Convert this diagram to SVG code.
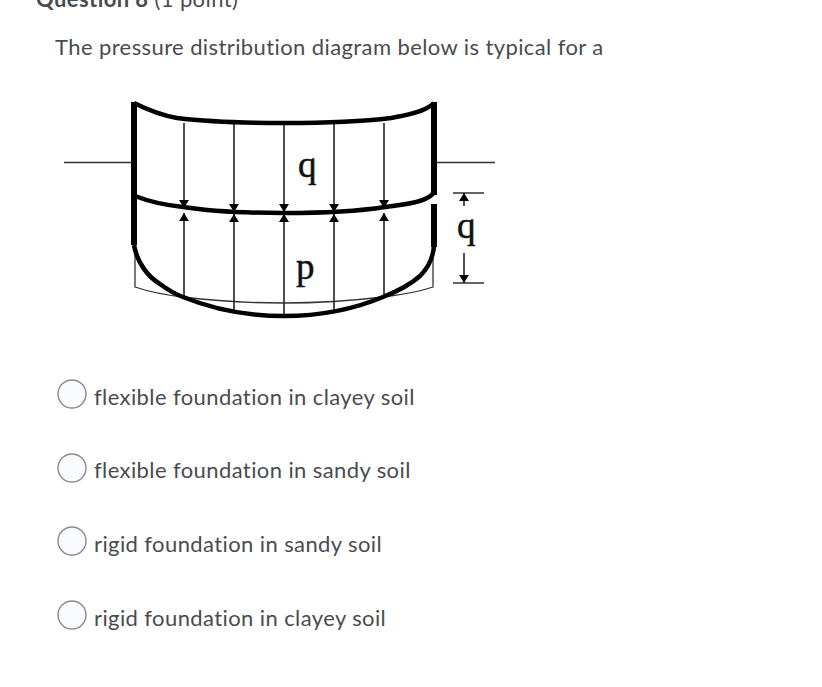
<svg xmlns="http://www.w3.org/2000/svg" width="822" height="687" viewBox="0 0 822 687">
<style>
.t{font-family:Lato,"Liberation Sans",sans-serif;font-size:22px;fill:#494c4e;letter-spacing:.4px}
.s{font-family:"Liberation Serif",serif;fill:#111;stroke:#111;stroke-width:.5;font-size:37px}
.r{fill:#f9fbff;stroke:#8b8b8b;stroke-width:1.4}
.k{fill:none;stroke:#000;stroke-width:4.500}
.w{fill:none;stroke:#000;stroke-width:6}
.l{fill:none;stroke:#333;stroke-width:1.300}
.m{fill:none;stroke:#222;stroke-width:1.600}
</style>
<defs>
<marker id="a" viewBox="0 0 10 10" refX="10" refY="5" markerWidth="8" markerHeight="10" markerUnits="userSpaceOnUse" orient="auto" preserveAspectRatio="none"><path d="M0 0L10 5L0 10Z" fill="#000"/></marker>
</defs>
<rect width="822" height="687" fill="#fff"/>
<text id="title" x="36" y="7" class="t"><tspan font-weight="bold">Question 8</tspan> (1 point)</text>
<text id="question" x="55" y="55" class="t">The pressure distribution diagram below is typical for a</text>
<g id="connectors">
<path class="l" d="M64 162.500H131M437 162.500H495"/>
<path class="l" d="M135 245V287C150 292 165 295 183 297C215 301 250 303 284 303C320 303 350 301 383 297C400 295 418 292 433 287V247"/>
<g class="m">
<path d="M184 123V208" marker-end="url(#a)"/><path d="M234 122V212" marker-end="url(#a)"/><path d="M284 123V212" marker-end="url(#a)"/><path d="M334 122V212" marker-end="url(#a)"/><path d="M384 123V208" marker-end="url(#a)"/>
<path d="M184 297V213" marker-end="url(#a)"/><path d="M234 312V214" marker-end="url(#a)"/><path d="M284 316V214" marker-end="url(#a)"/><path d="M334 312V214" marker-end="url(#a)"/><path d="M384 297V213" marker-end="url(#a)"/>
</g>
<path class="l" d="M453 193H484M453 283H484"/>
<path class="m" d="M464 206V193" marker-end="url(#a)"/>
<path class="m" d="M464 253V283" marker-end="url(#a)"/>
</g>
<g id="foundation">
<path class="w" d="M134 102V245M434 102V195M434 204V247"/>
<path class="k" d="M134 103C148 110 160 115 177 118C210 122 245 123 284 123C323 123 358 122 391 118C408 115 420 112 427 108C431 106 433 104 434 103"/>
<path class="k" d="M135 196C150 202 165 205 183 207C215 212 250 213 284 213C318 213 353 212 385 207C403 205 418 203 427 198C431 196 433 194 434 192"/>
<path class="k" d="M134 245C137 262 147 276 160 284C168 290 175 294 183 297C215 310 250 316 284 316C320 316 352 310 383 297C398 291 410 285 420 276C429 267 433 258 434 246"/>
</g>
<g id="labels">
<text class="s" x="298" y="177">q</text>
<text class="s" x="296" y="279">p</text>
<text class="s" x="457" y="238">q</text>
</g>
<g id="option1"><circle class="r" cx="72" cy="394" r="14"/><text class="t" x="94" y="405">flexible foundation in clayey soil</text></g>
<g id="option2"><circle class="r" cx="72" cy="468" r="14"/><text class="t" x="94" y="478">flexible foundation in sandy soil</text></g>
<g id="option3"><circle class="r" cx="72" cy="541" r="14"/><text class="t" x="94" y="552">rigid foundation in sandy soil</text></g>
<g id="option4"><circle class="r" cx="72" cy="615" r="14"/><text class="t" x="94" y="626">rigid foundation in clayey soil</text></g>
</svg>
